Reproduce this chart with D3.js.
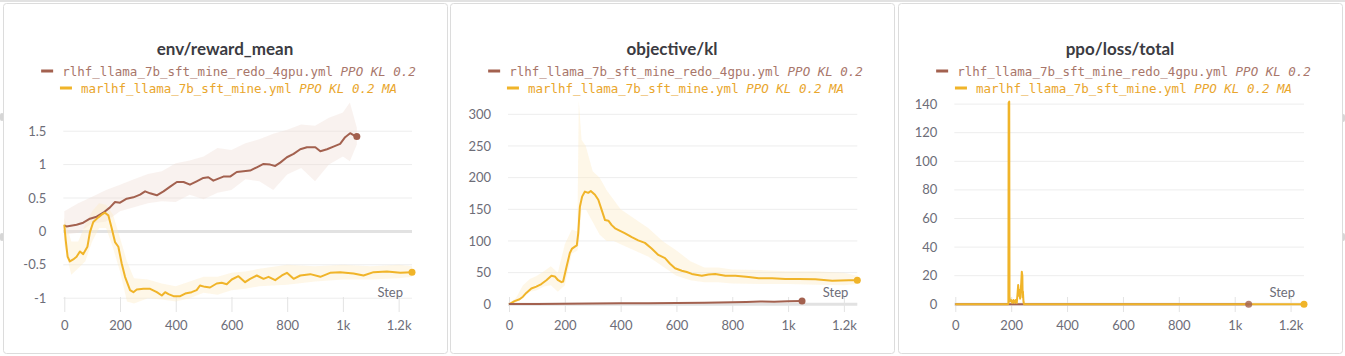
<!DOCTYPE html>
<html>
<head>
<meta charset="utf-8">
<script src="https://cdn.jsdelivr.net/npm/d3@7"></script>
<style>
  body { margin: 0; background: #fff; }
  svg { display: block; }
</style>
</head>
<body>
<div id="viz"></div>
<script>
// ---- data ----
const runNames = ["rlhf_llama_7b_sft_mine_redo_4gpu.yml", "marlhf_llama_7b_sft_mine.yml"];
const runTags = ["PPO KL 0.2", "PPO KL 0.2 MA"];
const runColors = ["#a3614f", "#f0b429"];
const runTextColors = ["#a8766a", "#e9a62c"];
const rawColors = ["#efdcd6", "#fcebc2"];

const titles = ["env/reward_mean", "objective/kl", "ppo/loss/total"];
const xTicks = [0, 200, 400, 600, 800, 1000, 1200];
const xTickLabels = ["0", "200", "400", "600", "800", "1k", "1.2k"];

// env/reward_mean
const rewardTicks = [-1, -0.5, 0, 0.5, 1, 1.5];
const rewardTickLabels = ["-1", "-0.5", "0", "0.5", "1", "1.5"];
const rewardBrownSteps = [0, 8, 44, 68, 92, 116, 140, 164, 182, 200, 224, 248, 272, 290, 308, 332, 356, 380, 404, 428, 451, 475, 499, 517, 535, 553, 571, 595, 619, 643, 667, 691, 715, 739, 757, 775, 799, 823, 847, 871, 901, 919, 943, 966, 990, 1008, 1026, 1038, 1050];
const rewardBrownVals = [0.09, 0.075, 0.10, 0.13, 0.19, 0.22, 0.28, 0.36, 0.44, 0.43, 0.49, 0.51, 0.55, 0.60, 0.57, 0.54, 0.60, 0.67, 0.74, 0.74, 0.70, 0.75, 0.80, 0.81, 0.76, 0.79, 0.82, 0.82, 0.89, 0.90, 0.91, 0.96, 1.01, 1.00, 0.98, 1.03, 1.11, 1.16, 1.23, 1.26, 1.26, 1.20, 1.23, 1.27, 1.31, 1.41, 1.47, 1.44, 1.42];
const rewardYellowSteps = [0, 5, 12, 20, 32, 44, 56, 68, 83, 92, 104, 122, 134, 146, 158, 170, 182, 194, 206, 218, 236, 248, 260, 284, 308, 332, 350, 362, 374, 392, 416, 434, 457, 475, 487, 505, 523, 547, 565, 583, 601, 625, 649, 667, 691, 715, 733, 757, 781, 799, 823, 847, 883, 919, 954, 990, 1038, 1074, 1110, 1158, 1206, 1248];
const rewardYellowVals = [0.10, -0.13, -0.38, -0.45, -0.42, -0.38, -0.30, -0.34, -0.23, -0.01, 0.14, 0.21, 0.25, 0.28, 0.24, 0.05, -0.16, -0.23, -0.48, -0.68, -0.88, -0.91, -0.87, -0.86, -0.86, -0.91, -0.96, -0.91, -0.94, -0.97, -0.97, -0.93, -0.91, -0.88, -0.81, -0.83, -0.84, -0.78, -0.77, -0.79, -0.72, -0.67, -0.76, -0.71, -0.66, -0.71, -0.68, -0.73, -0.66, -0.62, -0.71, -0.66, -0.64, -0.68, -0.62, -0.61, -0.63, -0.66, -0.61, -0.60, -0.62, -0.61];
const rewardBrownRawSteps = [0, 50, 100, 150, 200, 250, 300, 350, 400, 450, 500, 550, 600, 650, 700, 750, 800, 850, 900, 950, 1000, 1025, 1050];
const rewardBrownRawHi = [0.30, 0.42, 0.52, 0.62, 0.70, 0.78, 0.86, 0.90, 1.02, 1.06, 1.12, 1.25, 1.22, 1.32, 1.38, 1.46, 1.52, 1.60, 1.58, 1.70, 1.78, 1.93, 1.55];
const rewardBrownRawLo = [-0.05, -0.02, 0.12, 0.15, 0.30, 0.36, 0.42, 0.45, 0.44, 0.55, 0.48, 0.58, 0.62, 0.78, 0.75, 0.62, 0.85, 0.95, 0.75, 1.00, 1.12, 1.05, 1.30];
const rewardYellowRawSteps = [0, 25, 50, 75, 100, 125, 150, 175, 200, 225, 250, 300, 350, 400, 450, 500, 550, 600, 650, 700, 800, 900, 1000, 1100, 1200, 1248];
const rewardYellowRawHi = [0.20, -0.15, -0.15, 0.10, 0.30, 0.42, 0.40, 0.25, -0.10, -0.45, -0.70, -0.72, -0.78, -0.82, -0.75, -0.68, -0.68, -0.62, -0.60, -0.56, -0.50, -0.52, -0.50, -0.52, -0.50, -0.52];
const rewardYellowRawLo = [-0.20, -0.65, -0.55, -0.45, -0.15, 0.05, 0.05, -0.25, -0.60, -1.05, -1.08, -1.00, -1.02, -1.05, -1.00, -0.92, -0.95, -0.88, -0.86, -0.82, -0.80, -0.75, -0.72, -0.72, -0.70, -0.68];

// objective/kl
const klTicks = [0, 50, 100, 150, 200, 250, 300];
const klTickLabels = ["0", "50", "100", "150", "200", "250", "300"];
const klBrownSteps = [0, 100, 200, 300, 400, 500, 600, 700, 800, 850, 900, 950, 1000, 1050];
const klBrownVals = [0.3, 0.6, 0.9, 1.2, 1.5, 1.8, 2.1, 2.5, 3.2, 3.8, 4.6, 4.0, 4.8, 5.4];
const klYellowSteps = [0, 20, 38, 50, 62, 80, 98, 116, 134, 152, 164, 176, 188, 194, 206, 218, 226, 236, 243, 248, 254, 262, 272, 284, 293, 308, 320, 332, 344, 356, 368, 380, 398, 416, 440, 463, 487, 511, 535, 559, 577, 595, 619, 637, 655, 691, 715, 739, 775, 811, 859, 895, 943, 990, 1038, 1098, 1158, 1218, 1248];
const klYellowVals = [0, 5, 8, 12, 18, 25, 28, 32, 38, 45, 44, 38, 35, 36, 59, 81, 88, 91, 93, 112, 154, 170, 178, 176, 179, 173, 165, 149, 133, 132, 125, 120, 116, 112, 106, 101, 97, 88, 78, 73, 64, 57, 53, 51, 48, 45, 47, 48, 45, 45, 43, 41, 41, 40, 40, 39.5, 37, 38, 38];
const klYellowRawSteps = [0, 25, 50, 75, 100, 125, 150, 175, 200, 225, 245, 250, 260, 275, 300, 325, 350, 375, 400, 450, 500, 550, 600, 650, 700, 750, 800, 900, 1000, 1100, 1200, 1248];
const klYellowRawHi = [2, 10, 30, 40, 45, 52, 60, 50, 95, 118, 115, 322, 260, 250, 210, 200, 180, 165, 150, 135, 120, 100, 85, 68, 58, 58, 55, 54, 52, 52, 50, 45];
const klYellowRawLo = [0, 3, 12, 20, 22, 28, 30, 20, 30, 80, 85, 95, 150, 150, 130, 110, 100, 100, 95, 85, 75, 60, 45, 38, 35, 35, 33, 32, 32, 31, 30, 32];

// ppo/loss/total
const lossTicks = [0, 20, 40, 60, 80, 100, 120, 140];
const lossTickLabels = ["0", "20", "40", "60", "80", "100", "120", "140"];
const lossBrownSteps = [0, 200, 400, 600, 800, 1050];
const lossBrownVals = [0.1, 0.1, 0.1, 0.1, 0.1, 0.1];
const lossYellowSteps = [0, 188, 190, 191, 193, 194, 196, 200, 204, 208, 212, 216, 220, 223, 225, 227, 230, 232, 236, 238, 240, 241, 242, 244, 246, 1248];
const lossYellowVals = [0, 0, 0.5, 141, 141.7, 5, 2, 3, 1, 3, 1, 3, 1, 8, 13.5, 6, 10, 4, 15, 22.8, 20, 5, 9, 2, 0, 0];

// ---- layout ----
const W = 1345, H = 356;
const svg = d3.select("#viz").append("svg").attr("width", W).attr("height", H);
const axisFont = "Lato, 'Noto Sans', sans-serif";

// strip from the row above + small handles
svg.append("rect").attr("x", 0).attr("y", 0).attr("width", W).attr("height", 2).attr("fill", "#e2e2e2");
[[0, 113], [0, 233], [1341, 114], [1341, 233]].forEach(([x, y]) => {
  svg.append("rect").attr("x", x).attr("y", y).attr("width", 4).attr("height", 8).attr("rx", 2).attr("fill", "#d6d6d6");
});

const panels = [
  {
    x0: 3, x1: 447, title: titles[0],
    plotL: 64.3, plotR: 412, yDomain: [-1, 1.5], yRange: [298.2, 131.2],
    ticks: rewardTicks, tickLabels: rewardTickLabels,
    raw: [
      {steps: rewardBrownRawSteps, hi: rewardBrownRawHi, lo: rewardBrownRawLo, run: 0},
      {steps: rewardYellowRawSteps, hi: rewardYellowRawHi, lo: rewardYellowRawLo, run: 1}
    ],
    lines: [
      {steps: rewardBrownSteps, vals: rewardBrownVals, run: 0},
      {steps: rewardYellowSteps, vals: rewardYellowVals, run: 1}
    ]
  },
  {
    x0: 450, x1: 894, title: titles[1],
    plotL: 509, plotR: 857.3, yDomain: [0, 300], yRange: [304.3, 114.3],
    ticks: klTicks, tickLabels: klTickLabels,
    raw: [
      {steps: klYellowRawSteps, hi: klYellowRawHi, lo: klYellowRawLo, run: 1}
    ],
    lines: [
      {steps: klYellowSteps, vals: klYellowVals, run: 1},
      {steps: klBrownSteps, vals: klBrownVals, run: 0}
    ]
  },
  {
    x0: 898, x1: 1342, title: titles[2],
    plotL: 955.3, plotR: 1304, yDomain: [0, 140], yRange: [304.3, 104.1],
    ticks: lossTicks, tickLabels: lossTickLabels,
    raw: [],
    lines: [
      {steps: lossBrownSteps, vals: lossBrownVals, run: 0},
      {steps: lossYellowSteps, vals: lossYellowVals, run: 1}
    ]
  }
];

panels.forEach(p => {
  const g = svg.append("g");
  g.append("rect")
    .attr("x", p.x0 + 0.5).attr("y", 3.5)
    .attr("width", p.x1 - p.x0).attr("height", 350)
    .attr("rx", 3)
    .attr("fill", "#fff").attr("stroke", "#dcdcdc");

  const cx = (p.x0 + p.x1) / 2;
  g.append("text")
    .attr("x", cx).attr("y", 55)
    .attr("text-anchor", "middle")
    .attr("font-family", axisFont)
    .attr("font-weight", "bold")
    .attr("font-size", 17)
    .attr("fill", "#3b3b42")
    .text(p.title);

  // legend
  [0, 1].forEach(i => {
    const ly = i === 0 ? 76 : 93;
    const t = g.append("text")
      .attr("y", ly)
      .attr("font-family", "'DejaVu Sans Mono', monospace")
      .attr("font-size", 12.5)
      .attr("fill", runTextColors[i]);
    t.append("tspan").text(runNames[i] + " ");
    t.append("tspan").attr("font-style", "italic").text(runTags[i]);
    const tw = t.node().getComputedTextLength();
    const total = 12 + 9 + tw;
    const start = cx + 3.5 - total / 2;
    t.attr("x", start + 21);
    g.append("rect")
      .attr("x", start).attr("y", ly - 6.5)
      .attr("width", 12).attr("height", 3)
      .attr("fill", runColors[i]);
  });

  const x = d3.scaleLinear().domain([0, 1248]).range([p.plotL, p.plotR]);
  const y = d3.scaleLinear().domain(p.yDomain).range(p.yRange);

  // horizontal grid
  g.selectAll(".grid").data(p.ticks).join("line")
    .attr("x1", p.plotL - 1).attr("x2", p.plotR)
    .attr("y1", d => y(d)).attr("y2", d => y(d))
    .attr("stroke", d => d === 0 ? "#e2e2e2" : "#ededed")
    .attr("stroke-width", d => d === 0 ? 3 : 1);

  // y tick labels
  g.selectAll(".ylab").data(p.ticks).join("text")
    .attr("x", p.plotL - 18)
    .attr("y", d => y(d))
    .attr("dy", "0.35em")
    .attr("text-anchor", "end")
    .attr("font-family", axisFont)
    .attr("font-size", 13)
    .attr("fill", "#6d6d78")
    .text((d, i) => p.tickLabels[i]);

  // x axis
  const xAxis = d3.axisBottom(x)
    .tickValues(xTicks)
    .tickFormat((d, i) => xTickLabels[i])
    .tickSize(15)
    .tickPadding(9);
  const ax = g.append("g").attr("transform", "translate(0,297)").call(xAxis);
  ax.select(".domain").remove();
  ax.selectAll(".tick line").attr("stroke", "#e3e3e3");
  ax.selectAll(".tick text")
    .attr("font-family", axisFont)
    .attr("font-size", 13)
    .attr("fill", "#6d6d78");

  g.append("text")
    .attr("x", p.plotR - 9).attr("y", 297)
    .attr("text-anchor", "end")
    .attr("font-family", axisFont)
    .attr("font-size", 13)
    .attr("fill", "#6d6d78")
    .text("Step");

  // raw bands (faint)
  p.raw.forEach(r => {
    const area = d3.area()
      .x((d, i) => x(r.steps[i]))
      .y0((d, i) => y(r.lo[i]))
      .y1((d, i) => y(r.hi[i]));
    g.append("path")
      .datum(r.steps)
      .attr("d", area)
      .attr("fill", rawColors[r.run])
      .attr("fill-opacity", 0.38);
  });

  // smoothed lines
  const line = d3.line().x(d => x(d[0])).y(d => y(d[1]));
  p.lines.forEach(l => {
    const pts = l.steps.map((s, i) => [s, l.vals[i]]);
    g.append("path")
      .datum(pts)
      .attr("d", line)
      .attr("fill", "none")
      .attr("stroke", runColors[l.run])
      .attr("stroke-width", 2)
      .attr("stroke-linejoin", "round");
  });
  p.lines.forEach(l => {
    const n = l.steps.length - 1;
    g.append("circle")
      .attr("cx", x(l.steps[n])).attr("cy", y(l.vals[n]))
      .attr("r", 3.5)
      .attr("fill", runColors[l.run])
      .attr("fill-opacity", l.run === 0 && p.title === titles[2] ? 0.8 : 1);
  });
});
</script>
</body>
</html>
